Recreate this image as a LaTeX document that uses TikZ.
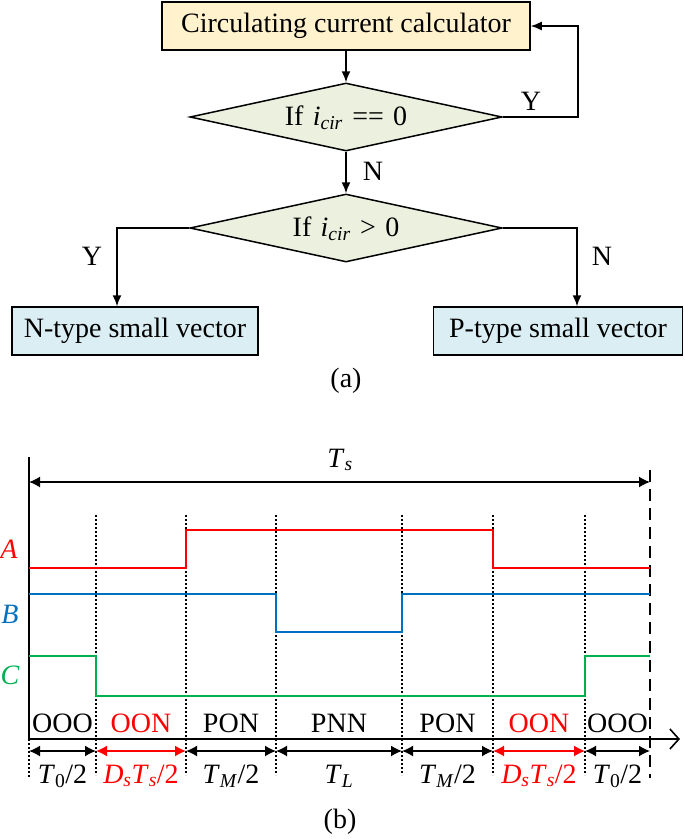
\documentclass[tikz,border=0pt]{standalone}
\usepackage{fontspec}
\setmainfont{Liberation Serif}
\usetikzlibrary{calc,shapes.geometric,arrows.meta}
\definecolor{calcfill}{HTML}{FFF2CC}
\definecolor{testfill}{HTML}{EBF1DE}
\definecolor{vecfill}{HTML}{DAEEF3}
\definecolor{phaseA}{HTML}{FF0000}
\definecolor{phaseB}{HTML}{0070C0}
\definecolor{phaseC}{HTML}{00B050}
\newcommand{\vsub}[2]{\textit{#1}\textsubscript{#2}}

\begin{document}
\begin{tikzpicture}[x=1pt, y=-1pt,
    every node/.style={font=\fontsize{28}{33}\selectfont},
    box/.style={draw, line width=1.5pt, rectangle, inner sep=0pt, minimum height=48pt},
    test/.style={draw, line width=1.5pt, diamond, aspect=4.59, inner sep=0pt, align=center,
        text width=202pt, text height=20pt, text depth=4pt, fill=testfill},
    flow/.style={line width=1.5pt, -{Latex[length=11pt,width=9pt]}},
    wave/.style={line width=1.8pt},
    gridline/.style={line width=1.4pt, dash pattern=on 2pt off 2pt},
    span/.style={line width=1.5pt, {Latex[length=11pt,width=11pt]}-{Latex[length=11pt,width=11pt]}}]
    \useasboundingbox (0,0) rectangle (685,839);

    % (a) flow chart
    \node [box, fill=calcfill, minimum width=368pt] (calc) at (346,26) {Circulating current calculator};
    \node [test] (iszero) at (346,117) {If \vsub{i}{\textit{cir}} == 0};
    \node [test] (ispos) at (346,228) {If \vsub{i}{\textit{cir}} > 0};
    \node [box, fill=vecfill, minimum width=246pt] (ntype) at (135,331) {N-type small vector};
    \node [box, fill=vecfill, minimum width=249pt] (ptype) at (558,331) {P-type small vector};
    \draw [flow] (calc) -- (iszero);
    \draw [flow] (iszero) -- (ispos);
    \draw [flow] (iszero.east) -- ++(75,0) |- (calc.east);
    \draw [flow] (ispos.west) -| ([xshift=-18pt]ntype.north);
    \draw [flow] (ispos.east) -| ([xshift=19pt]ptype.north);
    \node [anchor=base] (yloop) at (531,110) {Y};
    \node [anchor=base] (nzero) at (373,180) {N};
    \node [anchor=base] (ypos) at (92,265) {Y};
    \node [anchor=base] (npos) at (602,265) {N};
    \node (capa) at (346,381) {(a)};

    % (b) switching sequence
    \foreach \t [count=\i from 0] in {29,96,186,276,402,493,585,650}
        \coordinate (t\i) at (\t,739);
    \draw [line width=1.6pt, -{Straight Barb[length=9pt,width=20pt]}] (29,457) -- (t0) -- (680,739);
    \draw [span] (29,482) -- (650,482);
    \node [anchor=base] (ts) at (340,467) {\vsub{T}{\textit{s}}};
    \draw [line width=1.4pt, dash pattern=on 12pt off 7pt] (650,470) -- (650,778);
    \foreach \i in {1,...,6}
        \draw [gridline] (t\i |- 0,515) -- (t\i |- 0,775);
    \draw [gridline] (t0) -- (29,778);

    \draw [wave, phaseA] (29,568) -| (186,530) -| (493,568) -- (650,568);
    \draw [wave, phaseB] (29,594) -| (276,632) -| (402,594) -- (650,594);
    \draw [wave, phaseC] (29,656) -| (96,696) -| (585,656) -- (650,656);
    \node [anchor=base, text=phaseA] (labA) at (9,558) {\textit{A}};
    \node [anchor=base, text=phaseB] (labB) at (10,623) {\textit{B}};
    \node [anchor=base, text=phaseC] (labC) at (10,684) {\textit{C}};

    \foreach \a/\b/\c/\st/\dur [count=\k] in {
        0/1/black/OOO/{\vsub{T}{0}/2},
        1/2/phaseA/OON/{\vsub{D}{\textit{s}}\vsub{T}{\textit{s}}/2},
        2/3/black/PON/{\vsub{T}{\textit{M}}/2},
        3/4/black/PNN/{\vsub{T}{\textit{L}}},
        4/5/black/PON/{\vsub{T}{\textit{M}}/2},
        5/6/phaseA/OON/{\vsub{D}{\textit{s}}\vsub{T}{\textit{s}}/2},
        6/7/black/OOO/{\vsub{T}{0}/2}} {
        \draw [span, \c] ([yshift=-12pt]t\a) -- ([yshift=-12pt]t\b);
        \node [anchor=base, text=\c] (state\k) at ($(t\a)!0.5!(t\b) + (0,-7)$) {\st};
        \node [anchor=base, text=\c] (dur\k) at ($(t\a)!0.5!(t\b) + (0,44)$) {\dur};
    }
    \node (capb) at (340,822) {(b)};
\end{tikzpicture}
\end{document}
